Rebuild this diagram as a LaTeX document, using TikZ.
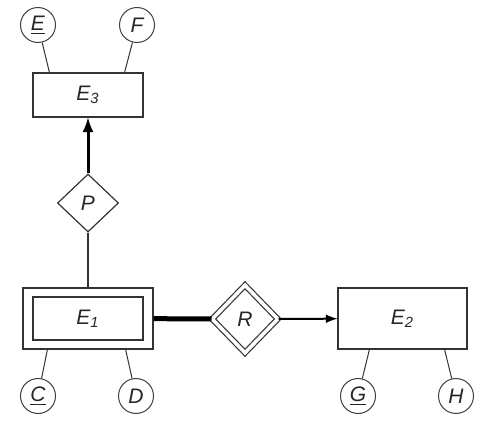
\documentclass[tikz,border=0pt]{standalone}
\usepackage{fontspec}
\setmainfont{Liberation Sans}
\usetikzlibrary{positioning,calc,arrows,shapes.geometric}

\begin{document}
\begin{tikzpicture}[x=0.5pt,y=-0.5pt,
    every node/.style={font=\fontsize{10.5}{12}\selectfont\itshape,text=black!85},
    entity/.style={rectangle,draw=black!80,line width=0.6pt,inner sep=0pt},
    attr/.style={circle,draw=black!75,line width=0.5pt,minimum size=17.5pt,inner sep=0pt},
    rel/.style={diamond,draw=black!80,line width=0.6pt,inner sep=0pt}]
        \useasboundingbox (0,0) rectangle (493,427);

        \node[entity,minimum width=55pt,minimum height=22pt] (e3) at (88,95) {E\textsubscript{3}};
        \node[attr] (e3-e) at (38,25) {\underline{E}};
        \node[attr] (e3-f) at (137,25) {F};

        \node[rel,minimum width=30.5pt,minimum height=29pt] (p) at (88,203) {P};

        \node[entity,minimum width=55pt,minimum height=21.5pt] (e1) at (88,318.5) {E\textsubscript{1}};
        \node[entity,minimum width=65pt,minimum height=30.5pt] (e1-outer) at (88,318.5) {};
        \node[attr] (e1-c) at (38,396) {\underline{C}};
        \node[attr] (e1-d) at (136,396) {D};

        \node[rel,double,double distance=1.8pt,minimum width=33pt,minimum height=34pt] (r) at (245,319) {R};

        \node[entity,minimum width=64.5pt,minimum height=30.5pt] (e2) at (402.5,318.5) {E\textsubscript{2}};
        \node[attr] (e2-g) at (358,396) {\underline{G}};
        \node[attr] (e2-h) at (456,396) {H};

        \draw[black!80,line width=0.5pt] (e3-e) -- ($(e3.north west)+(17,0)$);
        \draw[black!80,line width=0.5pt] (e3-f) -- ($(e3.north east)+(-19,0)$);
        \draw[black!80,line width=0.5pt] (e1-c) -- ($(e1-outer.south west)+(25,0)$);
        \draw[black!80,line width=0.5pt] (e1-d) -- ($(e1-outer.south east)+(-28,0)$);
        \draw[black!80,line width=0.5pt] (e2-g) -- ($(e2.south west)+(32,0)$);
        \draw[black!80,line width=0.5pt] (e2-h) -- ($(e2.south east)+(-23,0)$);

        \draw[-latex,line width=1.5pt] (p) -- (e3);
        \draw[black!80,line width=0.6pt] (p) -- (e1-outer);
        \draw[line width=2.5pt] (e1-outer) -- (r);
        \draw[-latex,line width=1pt] (r) -- (e2);
\end{tikzpicture}
\end{document}
